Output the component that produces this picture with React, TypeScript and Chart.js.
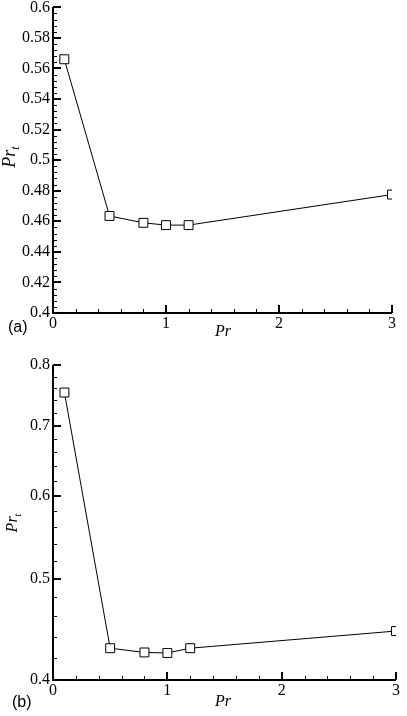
import React, { useEffect, useRef } from "react";
import { Chart, registerables } from "chart.js";

Chart.register(...registerables);

// Pr values on the x axis, and the two Pr_t curves
const prValues = [0.1, 0.5, 0.8, 1.0, 1.2, 3.0];
const prtA = [0.566, 0.4635, 0.459, 0.4575, 0.4575, 0.4775];
const prtB = [0.753, 0.429, 0.425, 0.4245, 0.429, 0.4455];

const xTicks = [0, 1, 2, 3];
const yTicksA = [0.4, 0.42, 0.44, 0.46, 0.48, 0.5, 0.52, 0.54, 0.56, 0.58, 0.6];
const yTicksB = [0.4, 0.5, 0.6, 0.7, 0.8];

const xMinorStep = 0.2;
const yMinorStepA = 0.004;
const yMinorStepB = 0.02;

const serif = "'Liberation Serif', 'Times New Roman', serif";
const sans = "'Liberation Sans', Arial, sans-serif";

interface Area {
  left: number;
  top: number;
  right: number;
  bottom: number;
}

interface PanelProps {
  ys: number[];
  yTicks: number[];
  yMinorStep: number;
  logY: boolean;
  width: number;
  height: number;
  area: Area;
  tag: string;
  tagPos: [number, number];
  xTitlePos: [number, number];
  yTitlePos: [number, number];
  yTitleSize: number;
}

// Tecplot-style axes: thick left/bottom lines, ticks pointing inwards
const makeAxesPlugin = (p: PanelProps) => ({
  id: "inwardAxes",
  afterDraw(chart: any) {
    const { ctx, chartArea: a, scales } = chart;
    const xs = scales.x;
    const ys = scales.y;
    ctx.save();
    ctx.strokeStyle = "#000";
    ctx.fillStyle = "#000";

    ctx.lineWidth = 2;
    ctx.beginPath();
    ctx.moveTo(Math.round(a.left), Math.round(a.top));
    ctx.lineTo(Math.round(a.left), Math.round(a.bottom));
    ctx.lineTo(Math.round(a.right), Math.round(a.bottom));
    ctx.stroke();

    const ticks = (min: number, max: number, step: number, majors: number[], isX: boolean) => {
      const n = Math.round((max - min) / step);
      for (let i = 0; i <= n; i++) {
        const v = min + i * step;
        const major = majors.some((m) => Math.abs(m - v) < step / 10);
        const len = major ? 8 : 4;
        ctx.lineWidth = major ? 2 : 1;
        const off = major ? 0 : 0.5;
        ctx.beginPath();
        if (isX) {
          const px = Math.round(xs.getPixelForValue(v)) + off;
          ctx.moveTo(px, a.bottom);
          ctx.lineTo(px, a.bottom - len);
        } else {
          const py = Math.round(ys.getPixelForValue(v)) + off;
          ctx.moveTo(a.left, py);
          ctx.lineTo(a.left + len, py);
        }
        ctx.stroke();
      }
    };
    ticks(xTicks[0], xTicks[xTicks.length - 1], xMinorStep, xTicks, true);
    ticks(p.yTicks[0], p.yTicks[p.yTicks.length - 1], p.yMinorStep, p.yTicks, false);

    // x title
    ctx.font = `italic 16px ${serif}`;
    ctx.textAlign = "center";
    ctx.textBaseline = "middle";
    ctx.fillText("Pr", p.xTitlePos[0], p.xTitlePos[1]);

    // panel tag
    ctx.font = `16px ${sans}`;
    ctx.textAlign = "left";
    ctx.fillText(p.tag, p.tagPos[0], p.tagPos[1]);

    // y title, rotated, with subscript
    const s = p.yTitleSize;
    ctx.translate(p.yTitlePos[0], p.yTitlePos[1]);
    ctx.rotate(-Math.PI / 2);
    ctx.textBaseline = "alphabetic";
    ctx.font = `italic ${s}px ${serif}`;
    const wMain = ctx.measureText("Pr").width;
    ctx.font = `italic ${Math.round(s * 0.65)}px ${serif}`;
    const wSub = ctx.measureText("t").width;
    const x0 = -(wMain + wSub) / 2;
    const base = s * 0.33;
    ctx.font = `italic ${s}px ${serif}`;
    ctx.fillText("Pr", x0, base);
    ctx.font = `italic ${Math.round(s * 0.65)}px ${serif}`;
    ctx.fillText("t", x0 + wMain, base + s * 0.22);
    ctx.restore();
  },
});

const Panel: React.FC<PanelProps> = (p) => {
  const ref = useRef<HTMLCanvasElement | null>(null);

  useEffect(() => {
    if (!ref.current) return;
    const font = { family: serif, size: 16, lineHeight: 1.2 };
    const chart = new Chart(ref.current, {
      type: "line",
      data: {
        datasets: [
          {
            data: prValues.map((x, i) => ({ x, y: p.ys[i] })),
            borderColor: "#000",
            borderWidth: 1,
            backgroundColor: "#fff",
            pointStyle: "rect",
            pointRadius: 6.3,
            pointBorderWidth: 1,
            pointBorderColor: "#000",
            pointBackgroundColor: "#fff",
            tension: 0,
          },
        ],
      },
      options: {
        animation: false,
        responsive: false,
        layout: { padding: { top: p.area.top, right: p.width - p.area.right, left: 0, bottom: 0 } },
        plugins: { legend: { display: false }, tooltip: { enabled: false } },
        scales: {
          x: {
            type: "linear",
            min: xTicks[0],
            max: xTicks[xTicks.length - 1],
            grid: { display: false, drawTicks: false },
            border: { display: false },
            ticks: { font, color: "#000", padding: 1, autoSkip: false, maxRotation: 0, callback: (v: any) => String(v) },
            afterBuildTicks: (s: any) => {
              s.ticks = xTicks.map((v) => ({ value: v }));
            },
            afterFit: (s: any) => {
              s.height = p.height - p.area.bottom;
              s.paddingLeft = 0;
              s.paddingRight = 0;
            },
          },
          y: {
            type: p.logY ? "logarithmic" : "linear",
            min: p.yTicks[0],
            max: p.yTicks[p.yTicks.length - 1],
            grid: { display: false, drawTicks: false },
            border: { display: false },
            ticks: { font, color: "#000", padding: 3, autoSkip: false, callback: (v: any) => String(v) },
            afterBuildTicks: (s: any) => {
              s.ticks = p.yTicks.map((v) => ({ value: v }));
            },
            afterFit: (s: any) => {
              s.width = p.area.left;
              s.paddingTop = 0;
              s.paddingBottom = 0;
            },
          },
        },
      },
      plugins: [makeAxesPlugin(p)],
    } as any);
    return () => {
      chart.destroy();
    };
  }, [p]);

  return <canvas ref={ref} width={p.width} height={p.height} style={{ display: "block" }}></canvas>;
};

const panelA: PanelProps = {
  ys: prtA,
  yTicks: yTicksA,
  yMinorStep: yMinorStepA,
  logY: false,
  width: 407,
  height: 340,
  area: { left: 53, top: 7, right: 392, bottom: 313 },
  tag: "(a)",
  tagPos: [8, 328],
  xTitlePos: [223, 332],
  yTitlePos: [9, 157],
  yTitleSize: 18,
};

const panelB: PanelProps = {
  ys: prtB,
  yTicks: yTicksB,
  yMinorStep: yMinorStepB,
  logY: true,
  width: 407,
  height: 376,
  area: { left: 53, top: 25, right: 396, bottom: 340 },
  tag: "(b)",
  tagPos: [12, 363],
  xTitlePos: [223, 362],
  yTitlePos: [12, 183],
  yTitleSize: 16,
};

export default function App() {
  return (
    <div style={{ position: "absolute", left: 0, top: 0, width: 407, height: 716, background: "#fff" }}>
      <div style={{ position: "absolute", left: 0, top: 0 }}>
        <Panel {...panelA} />
      </div>
      <div style={{ position: "absolute", left: 0, top: 340 }}>
        <Panel {...panelB} />
      </div>
    </div>
  );
}
